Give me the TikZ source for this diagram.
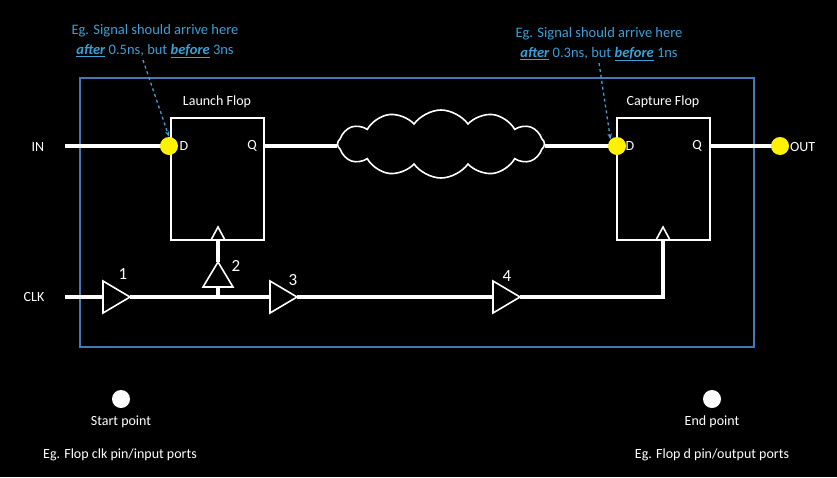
\documentclass[tikz,border=0pt]{standalone}
\usepackage{fontspec}
\setmainfont{Carlito}
\usetikzlibrary{shapes.symbols,arrows.meta}
\definecolor{boxblue}{RGB}{70,120,180}
\definecolor{annblue}{RGB}{60,160,215}
\begin{document}
\begin{tikzpicture}[x=1pt,y=-1pt,
  wire/.style={white,line width=4pt},
  thin/.style={white,line width=1.6pt},
  lbl/.style={text=white,font=\fontsize{14}{16}\selectfont,inner sep=0pt},
  num/.style={text=white,font=\fontsize{17}{19}\selectfont,inner sep=0pt},
  ann/.style={text=annblue,font=\fontsize{14.5}{20}\selectfont,align=center,inner sep=0pt},
  dot/.style={circle,fill=yellow,minimum size=18pt,inner sep=0pt},
  wdot/.style={circle,fill=white,minimum size=18pt,inner sep=0pt},
  flop/.style={draw=white,line width=1.6pt,minimum width=93pt,minimum height=122pt,inner sep=0pt},
  arr/.style={annblue,line width=1.3pt,dashed,-{Stealth[length=6pt]}}]
\fill[black] (0,0) rectangle (837,477);
\useasboundingbox (0,0) rectangle (837,477);
\draw[boxblue,line width=2pt] (80,78) rectangle (754,347);
% labels
\node[lbl] (in) at (38,147) {IN};
\node[lbl] (clk) at (34,297) {CLK};
\coordinate (inS) at (65,146);
\coordinate (clkS) at (65,297);
% flops
\node[flop] (lf) at (217.5,179) {};
\node[flop] (cf) at (663.5,179) {};
\node[lbl] (lft) at (217,102) {Launch Flop};
\node[lbl] (cft) at (663,102) {Capture Flop};
\node[lbl] (ld) at (184,146) {D};
\node[lbl] (lq) at (252,146) {Q};
\node[lbl] (cd) at (630,146) {D};
\node[lbl] (cq) at (697,146) {Q};
% clock triangles
\draw[thin] (211,240) -- (218,227) -- (225,240);
\draw[thin] (656,240) -- (663,227) -- (670,240);
% cloud
\node[cloud,draw=white,fill=black,line width=1.6pt,cloud puffs=12,cloud puff arc=110,aspect=3,minimum width=207pt,minimum height=68pt,inner sep=0pt] (cl) at (441,144) {};
% data wires
\draw[wire] (inS) -- (lf.west |- inS);
\draw[wire] (lf.east |- lq) -- (cl.west |- lq);
\draw[wire] (cl.east |- lq) -- (cf.west |- lq);
\coordinate (outP) at (780,146);
\draw[wire] (cf.east |- lq) -- (outP);
\node[dot] (d1) at (169,146) {};
\node[dot] (d2) at (617,146) {};
\node[dot] (d3) at (outP) {};
\node[lbl,anchor=west] (out) at (790,147) {OUT};
% clock tree
\coordinate (b1) at (103,297);
\coordinate (b3) at (270,297);
\coordinate (b4) at (493,297);
\coordinate (cT) at (663,297);
\draw[wire] (clkS) -- (b1);
\draw[wire] (130,297) -- (b3);
\draw[wire] (297,297) -- (b4);
\draw[wire,line join=miter] (520,297) -- (cT) -- (663,240);
\draw[wire] (218,297) -- (218,287);
\draw[wire] (218,262) -- (218,240);
\draw[thin,fill=black] (103,281) -- (130,297) -- (103,313) -- cycle;
\draw[thin,fill=black] (270,281) -- (297,297) -- (270,313) -- cycle;
\draw[thin,fill=black] (493,281) -- (520,297) -- (493,313) -- cycle;
\draw[thin,fill=black] (203,287) -- (218,262) -- (233,287) -- cycle;
\node[num] (n1) at (123,274) {1};
\node[num] (n2) at (236,266) {2};
\node[num] (n3) at (293,280) {3};
\node[num] (n4) at (507,276) {4};
% annotations
\node[ann] (a1) at (155,41) {Eg. Signal should arrive here\\\underline{\textbf{\textit{after}}} 0.5ns, but \underline{\textbf{\textit{before}}} 3ns};
\node[ann] (a2) at (599,44) {Eg. Signal should arrive here\\\underline{\textbf{\textit{after}}} 0.3ns, but \underline{\textbf{\textit{before}}} 1ns};
\coordinate (a1s) at (143,60);
\coordinate (a2s) at (599,63);
\draw[arr] (a1s) -- (d1.north);
\draw[arr] (a2s) -- (d2.north west);
% bottom
\node[wdot] (sp) at (121,399) {};
\node[wdot] (ep) at (712,399) {};
\node[lbl] (spt) at (121,422) {Start point};
\node[lbl] (ept) at (712,422) {End point};
\node[lbl] (spd) at (120,455) {Eg. Flop clk pin/input ports};
\node[lbl] (epd) at (712,455) {Eg. Flop d pin/output ports};
\end{tikzpicture}
\end{document}
